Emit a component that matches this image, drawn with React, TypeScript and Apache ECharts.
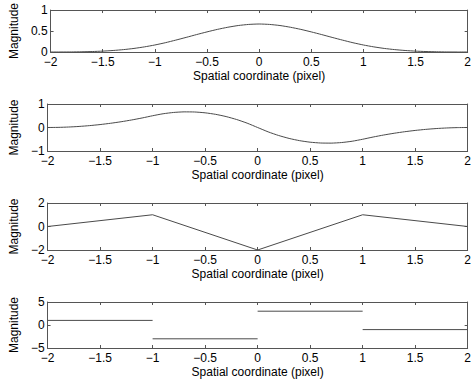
import React, { useEffect, useRef } from "react";
import * as echarts from "echarts";

// Sample positions (pixel coordinate) for the two smooth curves
const X_SAMPLES = [
  -2, -1.9, -1.8, -1.7, -1.6, -1.5, -1.4, -1.3, -1.2, -1.1, -1, -0.9, -0.8, -0.7,
  -0.6, -0.5, -0.4, -0.3, -0.2, -0.1, 0, 0.1, 0.2, 0.3, 0.4, 0.5, 0.6, 0.7, 0.8,
  0.9, 1, 1.1, 1.2, 1.3, 1.4, 1.5, 1.6, 1.7, 1.8, 1.9, 2,
];
// Panel 1: kernel magnitude
const KERNEL = [
  0, 0, 0.001, 0.005, 0.011, 0.021, 0.036, 0.057, 0.085, 0.122, 0.167, 0.221,
  0.283, 0.348, 0.415, 0.479, 0.539, 0.59, 0.631, 0.657, 0.667, 0.657, 0.631,
  0.59, 0.539, 0.479, 0.415, 0.348, 0.283, 0.221, 0.167, 0.122, 0.085, 0.057,
  0.036, 0.021, 0.011, 0.005, 0.001, 0, 0,
];
// Panel 2: first derivative
const SLOPE = [
  0, 0.005, 0.02, 0.045, 0.08, 0.125, 0.18, 0.245, 0.32, 0.405, 0.5, 0.585, 0.64,
  0.665, 0.66, 0.625, 0.56, 0.465, 0.34, 0.185, 0, -0.185, -0.34, -0.465, -0.56,
  -0.625, -0.66, -0.665, -0.64, -0.585, -0.5, -0.405, -0.32, -0.245, -0.18,
  -0.125, -0.08, -0.045, -0.02, -0.005, 0,
];
// Panel 3: second derivative (piecewise linear)
const CURV_X = [-2, -1, 0, 1, 2];
const CURV = [0, 1, -2, 1, 0];
// Panel 4: third derivative (piecewise constant)
const STEP_EDGES = [-2, -1, 0, 1, 2];
const STEP_VALUES = [1, -3, 3, -1];

const X_LABEL = "Spatial coordinate (pixel)";
const Y_LABEL = "Magnitude";
const Y_RANGES = [
  [0, 1, 0.5],
  [-1, 1, 1],
  [-2, 2, 2],
  [-5, 5, 5],
];

const FONT = "'Liberation Sans', Arial, Helvetica, sans-serif";
const FRAME = "#555";
const LINE = "#4a4a4a";
const TOPS = [5, 104, 203, 302];
const PLOT_H = 47;

const fmt = (v: number) => String(v).replace("-", "\u2212");

export default function App() {
  const ref = useRef<HTMLDivElement>(null);
  useEffect(() => {
    if (!ref.current) return;
    const chart = echarts.init(ref.current, null, { renderer: "svg" });

    const grids: any[] = [];
    const xAxes: any[] = [];
    const yAxes: any[] = [];
    const series: any[] = [];

    const axisLine = { show: true, onZero: false, lineStyle: { color: FRAME, width: 1 } };
    const tick = { show: true, inside: true, length: 3, lineStyle: { color: FRAME } };

    TOPS.forEach((top, i) => {
      grids.push({ left: 33, width: 439, top, height: PLOT_H });
      const [ymin, ymax, yint] = Y_RANGES[i];
      // bottom x axis
      xAxes.push({
        type: "value",
        gridIndex: i,
        position: "bottom",
        min: -2,
        max: 2,
        interval: 0.5,
        axisLine,
        axisTick: tick,
        splitLine: { show: false },
        axisLabel: {
          color: "#000",
          fontFamily: FONT,
          fontSize: 12,
          margin: 4,
          formatter: fmt,
        },
        name: X_LABEL,
        nameLocation: "middle",
        nameGap: 18,
        nameTextStyle: { color: "#000", fontFamily: FONT, fontSize: 12 },
      });
      // top x axis (ticks only)
      xAxes.push({
        type: "value",
        gridIndex: i,
        position: "top",
        min: -2,
        max: 2,
        interval: 0.5,
        axisLine,
        axisTick: tick,
        splitLine: { show: false },
        axisLabel: { show: false },
      });
      // left y axis
      yAxes.push({
        type: "value",
        gridIndex: i,
        position: "left",
        min: ymin,
        max: ymax,
        interval: yint,
        axisLine,
        axisTick: tick,
        splitLine: { show: false },
        axisLabel: {
          color: "#000",
          fontFamily: FONT,
          fontSize: 12,
          margin: 3,
          formatter: fmt,
        },
        name: Y_LABEL,
        nameLocation: "middle",
        nameGap: 17,
        nameTextStyle: { color: "#000", fontFamily: FONT, fontSize: 12 },
      });
      // right y axis (ticks only)
      yAxes.push({
        type: "value",
        gridIndex: i,
        position: "right",
        min: ymin,
        max: ymax,
        interval: yint,
        axisLine,
        axisTick: tick,
        splitLine: { show: false },
        axisLabel: { show: false },
      });
    });

    const lineBase = {
      type: "line",
      showSymbol: false,
      symbol: "none",
      lineStyle: { color: LINE, width: 1 },
      silent: true,
    };

    series.push({
      ...lineBase,
      xAxisIndex: 0,
      yAxisIndex: 0,
      smooth: 0.2,
      data: X_SAMPLES.map((x, k) => [x, KERNEL[k]]),
    });
    series.push({
      ...lineBase,
      xAxisIndex: 2,
      yAxisIndex: 2,
      smooth: 0.2,
      data: X_SAMPLES.map((x, k) => [x, SLOPE[k]]),
    });
    series.push({
      ...lineBase,
      xAxisIndex: 4,
      yAxisIndex: 4,
      data: CURV_X.map((x, k) => [x, CURV[k]]),
    });
    STEP_VALUES.forEach((v, k) => {
      series.push({
        ...lineBase,
        xAxisIndex: 6,
        yAxisIndex: 6,
        data: [
          [STEP_EDGES[k], v],
          [STEP_EDGES[k + 1], v],
        ],
      });
    });

    chart.setOption({
      animation: false,
      backgroundColor: "#fff",
      grid: grids,
      xAxis: xAxes,
      yAxis: yAxes,
      series,
    });
    return () => chart.dispose();
  }, []);

  return (
    <div
      ref={ref}
      style={{ position: "fixed", left: 0, top: 0, width: 474, height: 379, background: "#fff" }}
    />
  );
}
